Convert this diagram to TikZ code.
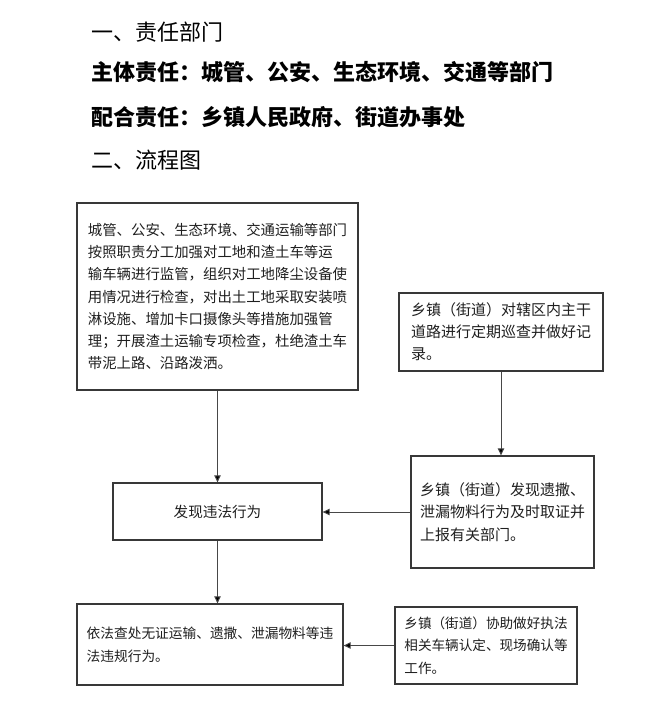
\documentclass[tikz,border=0pt]{standalone}
\usepackage{fontspec}
\newfontfamily\cjk{Noto Sans CJK SC}
\usetikzlibrary{arrows.meta}
\definecolor{boxline}{rgb}{0.22,0.22,0.22}
\definecolor{boxtext}{rgb}{0.12,0.12,0.12}
\definecolor{arrline}{rgb}{0.28,0.28,0.28}
\begin{document}
\begin{tikzpicture}[x=1pt,y=-1pt,
  box/.style={draw=boxline, line width=1.3pt, rectangle, inner sep=0pt, align=left, text=boxtext},
  arr/.style={draw=arrline, line width=0.9pt, -{Triangle[length=7pt,width=6.5pt,fill=black]}},
  head/.style={anchor=west, inner sep=0pt, font=\cjk\fontsize{22}{26}\selectfont},
  headb/.style={head, font=\cjk\bfseries\fontsize{22}{26}\selectfont}]
\useasboundingbox (0,0) rectangle (660,717);
\fill[white] (0,0) rectangle (660,717);
\node[head] (h1) at (91,32) {一、责任部门};
\node[headb] (h2) at (91,72) {主体责任：城管、公安、生态环境、交通等部门};
\node[headb] (h3) at (91,117) {配合责任：乡镇人民政府、街道办事处};
\node[head] (h4) at (91,160) {二、流程图};

\node[box, minimum width=281pt, minimum height=187pt,
  font=\cjk\fontsize{14.4}{22.3}\selectfont] (b1) at (217.5,296.5)
 {城管、公安、生态环境、交通运输等部门\\
  按照职责分工加强对工地和渣土车等运\\
  输车辆进行监管，组织对工地降尘设备使\\
  用情况进行检查，对出土工地采取安装喷\\
  淋设施、增加卡口摄像头等措施加强管\\
  理；开展渣土运输专项检查，杜绝渣土车\\
  带泥上路、沿路泼洒。};
\node[box, minimum width=204pt, minimum height=78pt,
  font=\cjk\fontsize{15}{22}\selectfont] (b2) at (501,332)
 {乡镇（街道）对辖区内主干\\道路进行定期巡查并做好记\\录。};
\node[box, minimum width=209pt, minimum height=57pt,
  font=\cjk\fontsize{14.6}{22}\selectfont] (b3) at (217.5,511.5)
 {发现违法行为};
\node[box, minimum width=183pt, minimum height=112pt,
  font=\cjk\fontsize{15}{22.5}\selectfont] (b4) at (502.5,512)
 {乡镇（街道）发现遗撒、\\泄漏物料行为及时取证并\\上报有关部门。};
\node[box, minimum width=266pt, minimum height=81pt,
  font=\cjk\fontsize{13.7}{23}\selectfont] (b5) at (210,644.5)
 {依法查处无证运输、遗撒、泄漏物料等违\\法违规行为。};
\node[box, minimum width=182pt, minimum height=77pt,
  font=\cjk\fontsize{13.6}{22.5}\selectfont] (b6) at (486,645.5)
 {乡镇（街道）协助做好执法\\相关车辆认定、现场确认等\\工作。};

\draw[arr] (b1.south) -- (b3.north);
\draw[arr] (b3.south) -- (b3.south |- b5.north);
\draw[arr] (b2.south) -- (b2.south |- b4.north);
\draw[arr] (b4.west) -- (b4.west -| b3.east);
\draw[arr] (b6.west) -- (b6.west -| b5.east);
\end{tikzpicture}
\end{document}
